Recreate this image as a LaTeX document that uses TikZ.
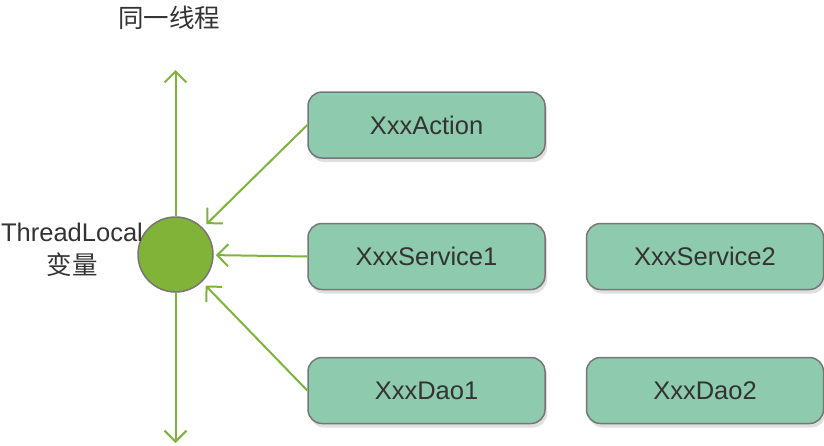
\documentclass[tikz,border=0pt]{standalone}
\usepackage{fontspec}
\setmainfont{Liberation Sans}
\newfontfamily\cjk{Noto Sans CJK SC}
\usetikzlibrary{arrows.meta,shadows}

\definecolor{boxGreen}{RGB}{141,202,174}
\definecolor{edgeGreen}{RGB}{125,180,58}
\definecolor{ballGreen}{RGB}{128,179,55}
\definecolor{rimGray}{RGB}{118,118,118}
\definecolor{inkGray}{RGB}{51,51,51}

\begin{document}
\begin{tikzpicture}[x=1pt, y=-1pt, >={Straight Barb[length=11pt,width=22pt]}]
  \tikzstyle{layer} = [draw=rimGray, line width=1.5pt, fill=boxGreen, rectangle, rounded corners=14pt, minimum width=237pt, minimum height=66pt, text=inkGray, font={\fontsize{25.5}{30}\selectfont}, drop shadow={shadow xshift=2pt, shadow yshift=-4pt, opacity=0.25}]
  \tikzstyle{ball} = [draw=rimGray, line width=1.5pt, fill=ballGreen, circle, minimum size=75pt, inner sep=0pt]
  \tikzstyle{threadEdge} = [edgeGreen, line width=2pt, ->]
  \tikzstyle{caption} = [text=inkGray, font={\fontsize{25.5}{33}\selectfont}, align=center, inner sep=0pt]

  \useasboundingbox (0,0) rectangle (824,445);

  \node[ball]    (tl)       at (175.5,254.5) {};
  \node[layer]   (action)   at (426.5,125)   {XxxAction};
  \node[layer]   (service1) at (426.5,256.5) {XxxService1};
  \node[layer]   (service2) at (705,256.5)   {XxxService2};
  \node[layer]   (dao1)     at (426.5,390.5) {XxxDao1};
  \node[layer]   (dao2)     at (705,390.5)   {XxxDao2};

  \node[caption] (thread)   at (169,18)      {\cjk 同一线程};
  \node[caption] (var)      at (72,250)      {ThreadLocal\\{\cjk 变量}};

  \coordinate (up)   at (175.5,70);
  \coordinate (down) at (175.5,443);

  \path (tl) edge[threadEdge] (up)
        (tl) edge[threadEdge] (down)
        (action.west)   edge[threadEdge, shorten >=5pt] (tl)
        (service1.west) edge[threadEdge, shorten >=2pt] (tl)
        (dao1.west)     edge[threadEdge, shorten >=5pt] (tl);
\end{tikzpicture}
\end{document}
